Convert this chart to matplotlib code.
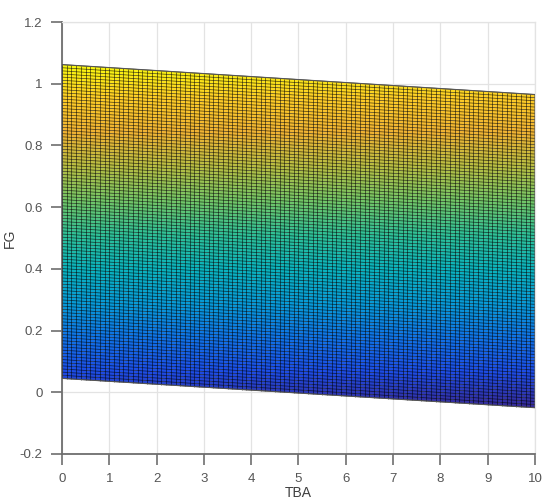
import numpy as np
import matplotlib
matplotlib.use("Agg")
import matplotlib.pyplot as plt
from matplotlib.colors import LinearSegmentedColormap
from matplotlib.collections import LineCollection

# surface corners (FG at TBA = 0 and TBA = 10)
tba_range = [0, 10]
fg_bottom = [0.045, -0.05]
fg_top = [1.062, 0.965]
n_lines = 101  # mesh lines in each direction

x_ticks = [0, 1, 2, 3, 4, 5, 6, 7, 8, 9, 10]
y_ticks = [-0.2, 0, 0.2, 0.4, 0.6, 0.8, 1.0, 1.2]
y_tick_labels = ["-0.2", "0", "0.2", "0.4", "0.6", "0.8", "1", "1.2"]

# parula-like colormap
parula = LinearSegmentedColormap.from_list("parula", [
    (0.0, (0.208, 0.166, 0.600)),
    (0.1, (0.110, 0.300, 0.900)),
    (0.2, (0.059, 0.450, 0.900)),
    (0.3, (0.027, 0.604, 0.840)),
    (0.4, (0.040, 0.700, 0.740)),
    (0.5, (0.180, 0.751, 0.591)),
    (0.6, (0.449, 0.773, 0.400)),
    (0.7, (0.720, 0.742, 0.260)),
    (0.8, (0.940, 0.700, 0.200)),
    (0.9, (0.992, 0.800, 0.150)),
    (1.0, (0.976, 0.983, 0.054)),
])

plt.rcParams["font.family"] = ["Liberation Sans", "DejaVu Sans"]

# mesh of the plane between the bottom and top edges
tba = np.linspace(tba_range[0], tba_range[1], n_lines)
frac = np.linspace(0, 1, n_lines)
low = np.interp(tba, tba_range, fg_bottom)
high = np.interp(tba, tba_range, fg_top)
X = np.tile(tba, (n_lines, 1))
Y = low[None, :] + frac[:, None] * (high - low)[None, :]
C = Y[:-1, :-1]

fig = plt.figure(figsize=(5.5, 4.99), dpi=100)
ax = fig.add_axes([0.1127, 0.0902, 0.86, 0.8657])

ax.pcolormesh(X, Y, C, cmap=parula, vmin=Y.min(), vmax=Y.max(),
              shading="flat", zorder=2, antialiased=True)

# faceted mesh lines
rows = [np.column_stack([X[i], Y[i]]) for i in range(n_lines)]
cols = [np.column_stack([X[:, j], Y[:, j]]) for j in range(n_lines)]
ax.add_collection(LineCollection(rows + cols, colors="black", linewidths=0.55,
                                 alpha=0.65, zorder=3))
outline = np.vstack([np.column_stack([X[0], Y[0]]),
                     np.column_stack([X[-1], Y[-1]])[::-1]])
ax.add_collection(LineCollection([np.vstack([outline, outline[:1]])],
                                 colors="#555555", linewidths=0.8, zorder=4))

ax.set_xlim(0, 10)
ax.set_ylim(-0.2, 1.2)
ax.set_xticks(x_ticks)
ax.set_yticks(y_ticks, labels=y_tick_labels)

ax.grid(True, color="#e3e3e3", linewidth=0.9, zorder=0)
ax.set_axisbelow(True)

for side in ["top", "right"]:
    ax.spines[side].set_color("#e3e3e3")
    ax.spines[side].set_linewidth(0.9)
for side in ["left", "bottom"]:
    ax.spines[side].set_color("#6e6e6e")
    ax.spines[side].set_linewidth(1.3)

ax.tick_params(direction="out", length=8, width=1.2, color="#6e6e6e",
               labelcolor="#555555", labelsize=9.5, pad=6)

ax.set_xlabel("TBA", fontsize=10, color="#404040")
ax.xaxis.set_label_coords(0.5, -0.075)
ax.set_ylabel("FG", fontsize=10, color="#404040")
ax.yaxis.set_label_coords(-0.095, 0.5)

fig.savefig("out.png", dpi=100)
